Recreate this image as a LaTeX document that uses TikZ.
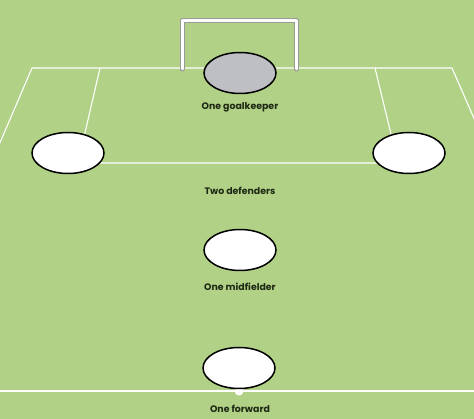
\documentclass[tikz,border=0pt]{standalone}
\usepackage{fontspec}
\setmainfont{Poppins}
\usetikzlibrary{shapes.geometric}
\definecolor{pitch}{RGB}{177,210,134}
\definecolor{keeper}{RGB}{190,191,195}
\definecolor{labeltext}{RGB}{30,40,20}
\tikzset{
  player/.style={ellipse, draw=black, line width=1.5pt, fill=white,
    minimum width=72pt, minimum height=41pt, inner sep=0pt},
  role/.style={font=\bfseries\fontsize{9.4}{11}\selectfont, text=labeltext},
  fieldline/.style={white, line width=1.1pt}
}
\begin{document}
\begin{tikzpicture}[x=1pt, y=-1pt]
    \useasboundingbox (0,0) rectangle (474,419);
    \fill[pitch] (0,0) rectangle (474,419);
    % field markings
    \coordinate (gl) at (32,68);
    \coordinate (gr) at (452,68);
    \draw[fieldline] (-1,145) -- (gl) -- (gr) -- (476,123);
    \draw[fieldline] (100,68) -- (78,163) -- (398,163) -- (375,68);
    \draw[fieldline] (0,391) -- (474,391);
    \fill[white] (239,391) circle (4.5);
    % goal
    \draw[gray!80, line width=5pt, line join=round, line cap=round] (182,69) -- (182,21) -- (296,21) -- (296,69);
    \draw[white, line width=3pt, line join=round, line cap=round] (182,69) -- (182,21) -- (296,21) -- (296,69);
    % players
    \node[player, fill=keeper] (gk) at (240,73) {};
    \node[player] (dl) at (68,153) {};
    \node[player] (dr) at (409,153) {};
    \node[player] (mf) at (240,250) {};
    \node[player] (fw) at (239,368) {};
    % labels
    \node[role] (gklabel) at (240,107) {One goalkeeper};
    \node[role] (dlabel) at (240,191) {Two defenders};
    \node[role] (mlabel) at (240,287) {One midfielder};
    \node[role] (flabel) at (240,409) {One forward};
\end{tikzpicture}
\end{document}
